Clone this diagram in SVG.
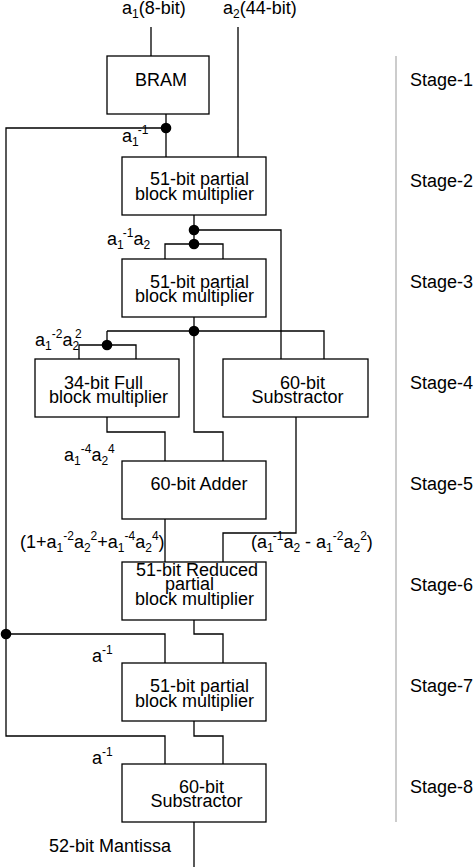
<svg xmlns="http://www.w3.org/2000/svg" width="474" height="867" viewBox="0 0 474 867">
<style>
.box{fill:#fff;stroke:#000;stroke-width:1.3}
.w{fill:none;stroke:#000;stroke-width:1.3}
.dot{fill:#000}
text{font-family:"Liberation Sans",Arial,sans-serif;font-size:18px;fill:#000}
.c{text-anchor:middle}
.s{font-size:12px}
</style>
<rect width="474" height="867" fill="#fff"/>
<g id="connectors">
<path class="w" d="M151 27V56M238 27V157M166 114V157M166 128H6V736H165V764"/>
<path class="w" d="M194 215V244M194 230H281V359M165 259V244H223V259"/>
<path class="w" d="M194 317V432H223V461M107 331H324V359M107 331V345M79 359V345H136V359"/>
<path class="w" d="M107 417V432H165V461M296 417V533H223V562M165 519V562"/>
<path class="w" d="M194 620V634H223V663M6 634H165V663M194 721V736H223V764M194 822V867"/>
<path fill="none" stroke="#aaa" stroke-width="1.2" d="M396 56V822"/>
<circle class="dot" cx="166" cy="128" r="5.3"/>
<circle class="dot" cx="194" cy="230" r="5.3"/>
<circle class="dot" cx="194" cy="244" r="5.3"/>
<circle class="dot" cx="194" cy="331" r="5.3"/>
<circle class="dot" cx="107" cy="345" r="5.3"/>
<circle class="dot" cx="6" cy="634" r="5.3"/>
</g>
<g id="bram"><rect class="box" x="107" y="56" width="102" height="58"/><text class="c" x="161" y="86">BRAM</text></g>
<g id="stage2"><rect class="box" x="122" y="157" width="144" height="58"/><text class="c" x="199.5" y="185">51-bit partial</text><text class="c" x="194.5" y="200">block multiplier</text></g>
<g id="stage3"><rect class="box" x="122" y="259" width="144" height="58"/><text class="c" x="199.5" y="288">51-bit partial</text><text class="c" x="194.5" y="302">block multiplier</text></g>
<g id="full34"><rect class="box" x="35" y="359" width="144" height="58"/><text class="c" x="103.5" y="389">34-bit Full</text><text class="c" x="108.5" y="403">block multiplier</text></g>
<g id="sub60a"><rect class="box" x="223" y="359" width="145" height="58"/><text class="c" x="302.5" y="389">60-bit</text><text class="c" x="297.5" y="403">Substractor</text></g>
<g id="adder"><rect class="box" x="122" y="461" width="144" height="58"/><text class="c" x="199" y="490">60-bit Adder</text></g>
<g id="stage6"><rect class="box" x="122" y="562" width="144" height="58"/><text class="c" x="197" y="576">51-bit Reduced</text><text class="c" x="189.5" y="590">partial</text><text class="c" x="194.5" y="605">block multiplier</text></g>
<g id="stage7"><rect class="box" x="122" y="663" width="144" height="58"/><text class="c" x="199.5" y="692">51-bit partial</text><text class="c" x="194.5" y="707">block multiplier</text></g>
<g id="stage8"><rect class="box" x="122" y="764" width="144" height="58"/><text class="c" x="201.5" y="793">60-bit</text><text class="c" x="196.5" y="807">Substractor</text></g>
<g id="labels">
<text x="122" y="14">a<tspan class="s" dy="4">1</tspan><tspan dy="-4">(8-bit)</tspan></text>
<text x="223" y="14">a<tspan class="s" dy="4">2</tspan><tspan dy="-4">(44-bit)</tspan></text>
<text x="122" y="142">a<tspan class="s" dy="4">1</tspan><tspan class="s" dx="-1" dy="-12">-1</tspan></text>
<text x="107" y="245">a<tspan class="s" dy="4">1</tspan><tspan class="s" dx="-1" dy="-12">-1</tspan><tspan dy="8">a</tspan><tspan class="s" dy="4">2</tspan></text>
<text x="35" y="346">a<tspan class="s" dy="4">1</tspan><tspan class="s" dy="-12">-2</tspan><tspan dy="8">a</tspan><tspan class="s" dy="4">2</tspan><tspan class="s" dx="-4" dy="-12">2</tspan></text>
<text x="64" y="461">a<tspan class="s" dy="4">1</tspan><tspan class="s" dy="-12">-4</tspan><tspan dy="8">a</tspan><tspan class="s" dy="4">2</tspan><tspan class="s" dy="-12">4</tspan></text>
<text x="20" y="548">(1+a<tspan class="s" dy="4">1</tspan><tspan class="s" dy="-12">-2</tspan><tspan dy="8">a</tspan><tspan class="s" dy="4">2</tspan><tspan class="s" dy="-12">2</tspan><tspan dy="8">+a</tspan><tspan class="s" dy="4">1</tspan><tspan class="s" dy="-12">-4</tspan><tspan dy="8">a</tspan><tspan class="s" dy="4">2</tspan><tspan class="s" dy="-12">4</tspan><tspan dy="8">)</tspan></text>
<text x="251" y="548">(a<tspan class="s" dy="4">1</tspan><tspan class="s" dx="-1" dy="-12">-1</tspan><tspan dy="8">a</tspan><tspan class="s" dy="4">2</tspan><tspan dy="-4"> - a</tspan><tspan class="s" dy="4">1</tspan><tspan class="s" dy="-12">-2</tspan><tspan dy="8">a</tspan><tspan class="s" dy="4">2</tspan><tspan class="s" dy="-12">2</tspan><tspan dy="8">)</tspan></text>
<text x="92" y="662">a<tspan class="s" dy="-8">-1</tspan></text>
<text x="92" y="764">a<tspan class="s" dy="-8">-1</tspan></text>
<text class="c" x="110" y="852">52-bit Mantissa</text>
</g>
<g id="stages">
<text x="410" y="86">Stage-1</text>
<text x="410" y="187">Stage-2</text>
<text x="410" y="288">Stage-3</text>
<text x="410" y="389">Stage-4</text>
<text x="410" y="490">Stage-5</text>
<text x="410" y="591">Stage-6</text>
<text x="410" y="692">Stage-7</text>
<text x="410" y="793">Stage-8</text>
</g>
</svg>
